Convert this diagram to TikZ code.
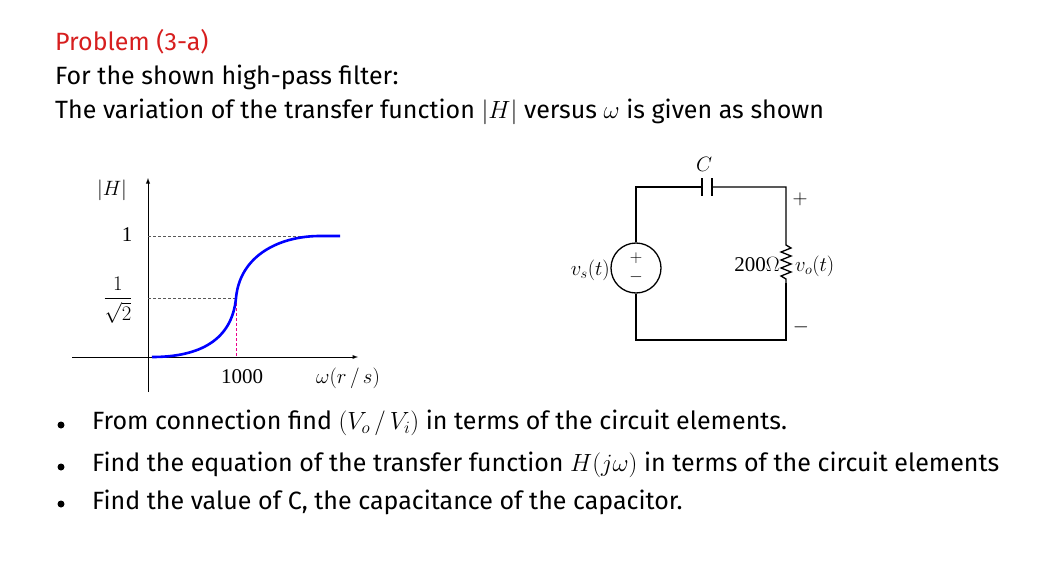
\documentclass[tikz,border=0pt]{standalone}
\usepackage{fontspec}
\usepackage{amsmath}
\setmainfont{Fira Sans}
\newfontfamily\serifm{Liberation Serif}
\tikzset{x=1pt,y=-1pt,
 txt/.style={anchor=west,inner sep=0pt,font=\fontsize{25}{30}\selectfont},
 lbl/.style={inner sep=0pt,font=\serifm\fontsize{21}{25}\selectfont},
 wire/.style={line width=1.3pt},
 guide/.style={densely dashed,line width=0.6pt}}
\begin{document}
\begin{tikzpicture}
\useasboundingbox[fill=white] (0,0) rectangle (1040,580);
\node[txt,text={rgb,255:red,215;green,30;blue,30}] (t1) at (55,42) {Problem (3-a)};
\node[txt] (t2) at (55,77) {For the shown high-pass filter:};
\node[txt] (t3) at (55,112) {The variation of the transfer function $\left|H\right|$ versus $\omega$ is given as shown};
% graph
\coordinate (yb) at (148,392); \coordinate (yt) at (148,178);
\coordinate (xl) at (72,357); \coordinate (xr) at (358,357);
\draw[line width=0.9pt,-latex] (yb) -- (yt);
\draw[line width=0.9pt,-latex] (xl) -- (xr);
\coordinate (p0) at (152,357); \coordinate (pm) at (236,298); \coordinate (p1) at (320,236); \coordinate (p2) at (340,236);
\draw[guide,gray!70!black] (148,236) -- (p1);
\draw[guide,gray!70!black] (148,298) -- (pm);
\draw[guide,magenta] (pm) -- (236,357);
\draw[line width=2.6pt,blue] (p0) .. controls (200,357) and (232,340) .. (pm) .. controls (240,255) and (280,236) .. (p1) -- (p2);
\node[lbl] (lh) at (112,190) {$\left|H\right|$};
\node[lbl] (l1) at (127,235) {1};
\node[lbl] (lr) at (118,300) {$\dfrac{1}{\sqrt{2}}$};
\node[lbl] (l1000) at (242,377) {1000};
\node[lbl] (lw) at (348,378) {$\omega(r\,/\,s)$};
% circuit
\coordinate (tl) at (636,187); \coordinate (tr) at (786,187);
\coordinate (bl) at (636,340); \coordinate (br) at (786,340);
\coordinate (c1) at (702,187); \coordinate (c2) at (712,187);
\node[circle,draw,wire,minimum size=50pt,inner sep=0pt] (src) at (636,268) {};
\node[inner sep=0pt,font=\fontsize{16}{16}\selectfont] (sp) at (636,258) {$+$};
\node[inner sep=0pt,font=\fontsize{16}{16}\selectfont] (sm) at (636,277) {$-$};
\coordinate (r1) at (786,245); \coordinate (r2) at (786,283);
\draw[wire] (src.north) -- (tl) -- (c1);
\draw[wire] (c2) -- (tr) -- (r1) -- ++(5,3) -- ++(-10,4) -- ++(10,4) -- ++(-10,4) -- ++(10,4) -- ++(-10,4) -- ++(10,4) -- ++(-10,4) -- ++(5,3) -- (r2);
\draw[wire] (r2) -- (br) -- (bl) -- (src.south);
\draw[wire] (702,178) -- (702,196);
\draw[wire] (712,178) -- (712,196);
\node[lbl] (lc) at (704,164) {$C$};
\node[lbl] (lp) at (800,199) {$+$};
\node[lbl] (lm) at (801,327) {$-$};
\node[lbl,anchor=east] (lrr) at (780,265) {200$\Omega$};
\node[lbl,anchor=west] (lvo) at (795,266) {$v_o(t)$};
\node[lbl,anchor=east] (lvs) at (610,270) {$v_s(t)$};
% bullets
\foreach \y/\n in {423/b1,465/b2,502/b3}{\fill (61,\y+2) circle (3.5pt);}
\node[txt] (tb1) at (92,423) {From connection find $\left(V_o\,/\,V_i\right)$ in terms of the circuit elements.};
\node[txt] (tb2) at (92,465) {Find the equation of the transfer function $H(j\omega)$ in terms of the circuit elements};
\node[txt] (tb3) at (92,502) {Find the value of C, the capacitance of the capacitor.};
\end{tikzpicture}
\end{document}
